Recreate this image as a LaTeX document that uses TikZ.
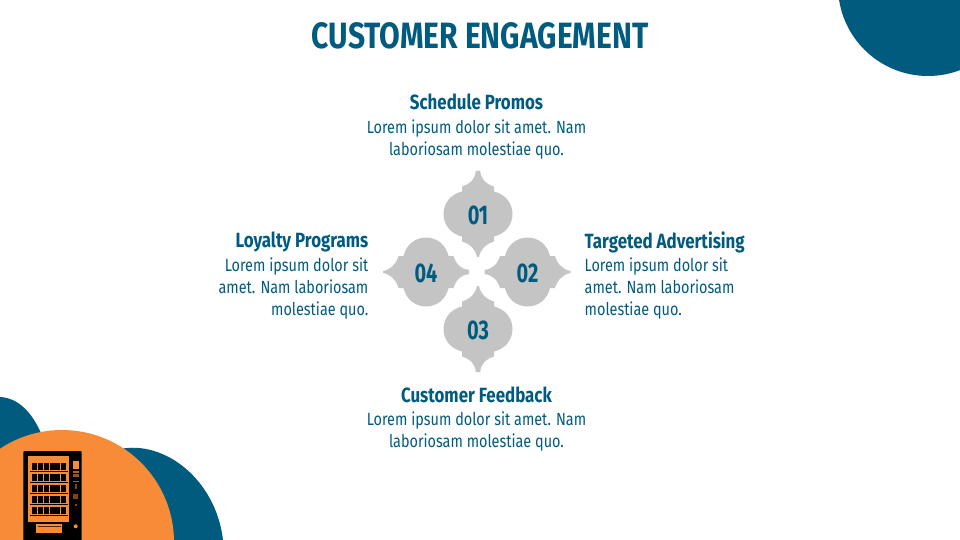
\documentclass[tikz,border=0pt]{standalone}
\usepackage{fontspec}
\setmainfont{Fira Sans}[FakeStretch=0.82]
\usepackage{tikz}

\definecolor{deepblue}{HTML}{005B7F}
\definecolor{softorange}{HTML}{F78B38}
\definecolor{petalgray}{HTML}{C4C4C4}

\begin{document}
\begin{tikzpicture}
    [
        x=1pt, y=-1pt,
        title/.style={text=deepblue, font=\fontsize{36.6}{40}\selectfont\bfseries},
        heading/.style={text=deepblue, font=\fontsize{20.6}{22}\selectfont\bfseries},
        body/.style={text=deepblue, font=\fontsize{17.6}{22}\selectfont, inner sep=0pt},
        number/.style={text=deepblue, font=\fontsize{27}{30}\selectfont\bfseries, xscale=0.9},
    ]

    \useasboundingbox (0, 0) rectangle (960, 540);
    \clip (0, 0) rectangle (960, 540);

    % corner shapes
    \fill [deepblue] (928, -14) circle (90);
    \fill [deepblue] (0, 397) .. controls (20, 398) and (33, 415) .. (41, 433) -- (41, 460) -- (0, 460) -- cycle;
    \fill [deepblue] (120, 449) .. controls (165, 440) and (216, 480) .. (223, 540) -- (120, 540) -- cycle;
    \fill [softorange] (62, 542) circle (112);

    % vending machine
    \fill [black, rounded corners=1] (23.3, 451) rectangle (81.7, 541);
    \fill [softorange] (28.3, 455.7) rectangle (69.3, 521.7);
    \fill [softorange] (36, 524.3) rectangle (61.7, 532.7);
    \fill [black!70!softorange] (37.5, 526) rectangle (60.5, 526.8);
    \foreach \y in {463, 474, 485, 496, 507} {
        \foreach \x in {32, 38, 44, 50, 55.3, 61} {
            \fill [black] (\x, \y) rectangle (\x + 5, \y + 7.3);
        }
        \fill [black] (30, \y + 8.2) rectangle (67.7, \y + 9);
    }
    \fill [softorange] (72.7, 461) rectangle (79, 469.3);
    \fill [softorange!70!black] (72.7, 471) rectangle (79, 472.5);
    \fill [softorange!60!black] (72.7, 474) rectangle (79, 477);
    \fill [softorange!70!black] (72.7, 480.5) rectangle (79, 481.5);
    \fill [softorange!50!black] (75, 483.5) rectangle (76.5, 488.5);
    \fill [softorange!50!black] (72.7, 494) rectangle (78, 499);
    \fill [softorange!50!black] (75, 504) rectangle (76.5, 505.7);
    \fill [softorange] (75.7, 526.3) circle (2);

    % petals
    \foreach \x/\y/\a/\n in
    {478/214/0/01, 527.5/272/90/02, 478/329/180/03, 426/272/270/04}
    {
        \fill [petalgray, shift={(\x, \y)}, rotate=\a]
            (-2.3, -43) -- (2.3, -43)
            .. controls (2.5, -35) and (8, -30) .. (16, -27.5)
            -- (16, -22.5)
            .. controls (27, -20) and (34.5, -11) .. (34.5, 0)
            .. controls (34.5, 11) and (27, 20) .. (16, 22.5)
            -- (16, 27.5)
            .. controls (8, 30) and (2.5, 35) .. (1, 43)
            -- (-1, 43)
            .. controls (-2.5, 35) and (-8, 30) .. (-16, 27.5)
            -- (-16, 22.5)
            .. controls (-27, 20) and (-34.5, 11) .. (-34.5, 0)
            .. controls (-34.5, -11) and (-27, -20) .. (-16, -22.5)
            -- (-16, -27.5)
            .. controls (-8, -30) and (-2.5, -35) .. cycle;
        \node [number] (num\n) at (\x, \y + 1.5) {\n};
    }

    % texts
    \node [title] (header) at (480, 36) {CUSTOMER ENGAGEMENT};

    \node [heading] (promos) at (476.5, 102) {Schedule Promos};
    \node [body, anchor=north, align=center] (promostext) at (476.5, 119.5)
        {Lorem ipsum dolor sit amet. Nam\\laboriosam molestiae quo.};

    \node [heading] (feedback) at (476.5, 394.5) {Customer Feedback};
    \node [body, anchor=north, align=center] (feedbacktext) at (476.5, 411.5)
        {Lorem ipsum dolor sit amet. Nam\\laboriosam molestiae quo.};

    \node [heading, anchor=west, inner sep=0pt] (advert) at (584.5, 242) {Targeted Advertising};
    \node [body, anchor=north west, align=left] (adverttext) at (584.5, 257.5)
        {Lorem ipsum dolor sit\\amet. Nam laboriosam\\molestiae quo.};

    \node [heading, anchor=east, inner sep=0pt] (loyalty) at (368.5, 242) {Loyalty Programs};
    \node [body, anchor=north east, align=right] (loyaltytext) at (368.5, 257.5)
        {Lorem ipsum dolor sit\\amet. Nam laboriosam\\molestiae quo.};

\end{tikzpicture}
\end{document}
